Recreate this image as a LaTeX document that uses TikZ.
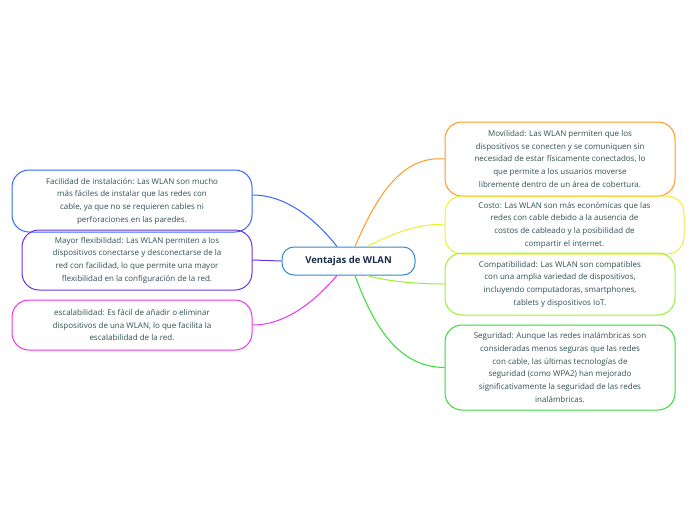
\documentclass[tikz,border=0pt]{standalone}
\usepackage{fontspec}
\setmainfont{Open Sans}
\begin{document}
\begin{tikzpicture}[x=1pt,y=-1pt,
 box/.style={draw,line width=1pt,rounded corners=17pt,align=center,text=txt,font=\fontsize{8}{12.7}\selectfont,inner sep=0pt},
 con/.style={line width=1pt}]
\definecolor{txt}{HTML}{2F4F4F}
\definecolor{ctitle}{HTML}{1A2B4C}
\definecolor{cblue}{HTML}{3366FF}
\definecolor{cpur}{HTML}{6633DD}
\definecolor{cmag}{HTML}{EE33EE}
\definecolor{corg}{HTML}{FF9922}
\definecolor{cyel}{HTML}{EEEE33}
\definecolor{clg}{HTML}{99EE33}
\definecolor{cgr}{HTML}{33DD33}
\definecolor{ccen}{HTML}{3388CC}
\useasboundingbox (0,0) rectangle (696,520);
\node[box,draw=ccen,rounded corners=12pt,minimum width=133pt,minimum height=28pt,font=\bfseries\fontsize{9.5}{11}\selectfont,text=ctitle] (c) at (348.5,261) {Ventajas de WLAN};
\node[box,draw=cblue,minimum width=240pt,minimum height=62pt] (a) at (132,201) {Facilidad de instalación: Las WLAN son mucho\\más fáciles de instalar que las redes con\\cable, ya que no se requieren cables ni\\perforaciones en las paredes.};
\node[box,draw=cpur,minimum width=230pt,minimum height=60pt] (b) at (137,260) {Mayor flexibilidad: Las WLAN permiten a los\\dispositivos conectarse y desconectarse de la\\red con facilidad, lo que permite una mayor\\flexibilidad en la configuración de la red.};
\node[box,draw=cmag,minimum width=240pt,minimum height=50pt] (e) at (132,325) {escalabilidad: Es fácil de añadir o eliminar\\dispositivos de una WLAN, lo que facilita la\\escalabilidad de la red.};
\node[box,draw=corg,minimum width=230pt,minimum height=74pt] (m) at (560,159) {Movilidad: Las WLAN permiten que los\\dispositivos se conecten y se comuniquen sin\\necesidad de estar físicamente conectados, lo\\que permite a los usuarios moverse\\libremente dentro de un área de cobertura.};
\node[box,draw=cyel,minimum width=239pt,minimum height=58pt] (k) at (564.5,225) {Costo: Las WLAN son más económicas que las\\redes con cable debido a la ausencia de\\costos de cableado y la posibilidad de\\compartir el internet.};
\node[box,draw=clg,minimum width=230pt,minimum height=62pt] (p) at (560,284) {Compatibilidad: Las WLAN son compatibles\\con una amplia variedad de dispositivos,\\incluyendo computadoras, smartphones,\\tablets y dispositivos IoT.};
\node[box,draw=cgr,minimum width=230pt,minimum height=85pt] (s) at (560,367.5) {Seguridad: Aunque las redes inalámbricas son\\consideradas menos seguras que las redes\\con cable, las últimas tecnologías de\\seguridad (como WPA2) han mejorado\\significativamente la seguridad de las redes\\inalámbricas.};
\draw[con,cblue] (a.east |- 0,195) .. controls (290,195) and (320,225) .. (c.north -| 337,0);
\draw[con,cpur] (b.east) -- (c.west);
\draw[con,cmag] (e.east |- 0,325) .. controls (290,325) and (320,295) .. (c.south -| 337,0);
\draw[con,corg] (c.north -| 355,0) .. controls (375,200) and (400,155) .. (m.west);
\draw[con,cyel] (c.north -| 367,0) .. controls (390,235) and (420,222) .. (k.west);
\draw[con,clg] (c.south -| 367,0) .. controls (390,282) and (420,284) .. (p.west);
\draw[con,cgr] (c.south -| 355,0) .. controls (375,330) and (400,367) .. (s.west);
\end{tikzpicture}
\end{document}
